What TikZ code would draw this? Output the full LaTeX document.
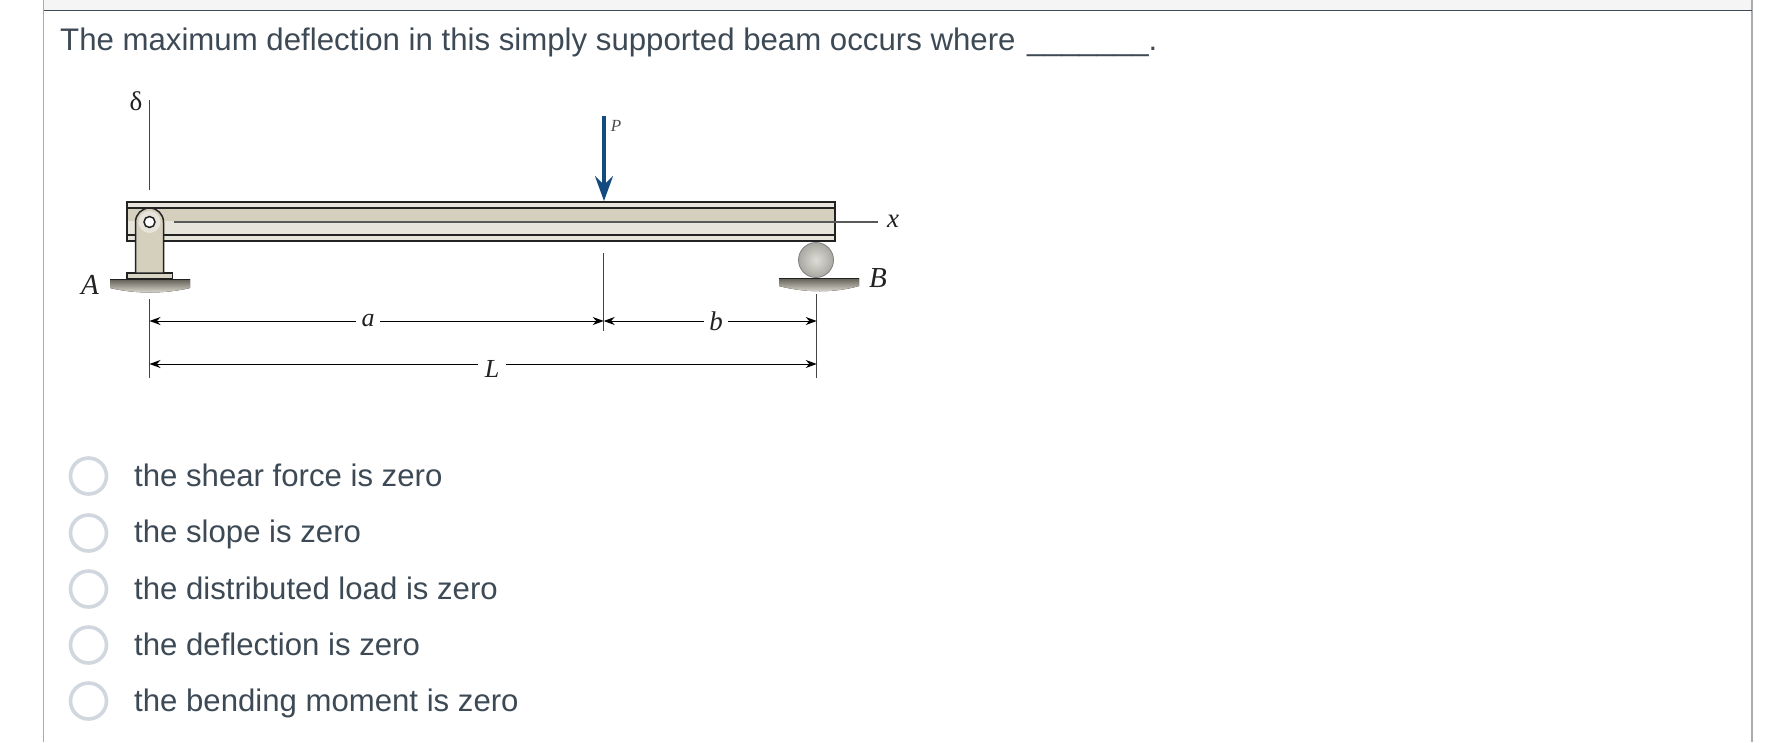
\documentclass[tikz,border=0pt]{standalone}
\usepackage{fontspec}
\setmainfont{Liberation Sans}
\newfontfamily\serifit[Ligatures=TeX]{Liberation Serif}
\usetikzlibrary{arrows.meta}
\definecolor{txt}{HTML}{3D4A55}
\definecolor{radio}{HTML}{D0D7DF}
\definecolor{frame}{HTML}{ABABAB}
\definecolor{hdr}{HTML}{F5F5F5}
\definecolor{hdrline}{HTML}{3F4C57}
\definecolor{beamlight}{HTML}{E7E4DB}
\definecolor{beamdark}{HTML}{D5CFBD}
\definecolor{pblue}{HTML}{134B80}
\definecolor{ink}{HTML}{222222}
\definecolor{ballin}{HTML}{DDDCD6}
\definecolor{ballout}{HTML}{A9A8A0}
\tikzset{
  qtext/.style={font=\fontsize{31.2}{36}\selectfont,text=txt,anchor=base west,inner sep=0pt},
  opt/.style={font=\fontsize{31.15}{36}\selectfont,text=txt,anchor=base west,inner sep=0pt},
  radiobtn/.style={circle,draw=radio,line width=3.6pt,fill=white,minimum size=36pt,inner sep=0pt},
  ital/.style={font=\fontsize{#1}{#1}\selectfont\serifit\itshape,text=ink,inner sep=0pt},
  dimarrow/.style={draw=black,line width=1pt,-{Stealth[length=11pt,width=8pt]}},
  extline/.style={draw=ink!85,line width=1pt},
  outline/.style={draw=ink,line width=1.5pt},
  groundblk/.style={top color=black!55!beamdark,bottom color=beamlight,draw=none}
}
\begin{document}
\begin{tikzpicture}[x=1pt,y=-1pt]
\useasboundingbox (0,0) rectangle (1791,742);
\fill[white] (0,0) rectangle (1791,742);
% frame
\fill[hdr] (43.5,0) rectangle (1752,10);
\draw[frame,line width=1.2pt] (43.5,0) -- (43.5,742);
\draw[frame,line width=1.2pt] (1752,0) -- (1752,742);
\draw[hdrline,line width=1.2pt] (43.5,10.5) -- (1752,10.5);
% question
\node[qtext] (question) at (60,50.5) {The maximum deflection in this simply supported beam occurs where\hspace{3pt} \_\_\_\_\_\_\_.};
% options
\foreach \yy/\bl/\lab/\txt in {476/486/o1/the shear force is zero,533/542/o2/the slope is zero,589/599/o3/the distributed load is zero,645/655/o4/the deflection is zero,701/711/o5/the bending moment is zero}{
  \node[radiobtn] (r\lab) at (88.5,\yy) {};
  \node[opt] (t\lab) at (134,\bl) {\txt};
}
% beam
\fill[beamlight] (127,202) rectangle (835,241);
\fill[beamdark] (127,208) rectangle (835,221);
\draw[outline] (127,202) rectangle (835,241);
\draw[outline] (127,208) -- (835,208);
\draw[outline] (127,235) -- (835,235);
% axes
\coordinate (dtop) at (149.5,100);
\coordinate (dbot) at (149.5,190);
\draw[extline] (dtop) -- (dbot);
\node[font=\fontsize{27}{27}\selectfont\serifit,text=ink,inner sep=0pt] (delta) at (136,101) {δ};
\coordinate (xl) at (174,222);
\coordinate (xr) at (878,222);
\draw[draw=ink!75,line width=1.1pt] (xl) -- (xr);
\node[ital=27] (xlab) at (893,221) {x};
% support A
\fill[groundblk] (110,279) -- (190,279) -- (190,288) .. controls (165,294) and (135,294) .. (110,288) -- cycle;
\draw[ink,line width=1.5pt] (110,279.5) -- (190,279.5);
\draw[outline,fill=beamdark!90!white] (127,273) rectangle (172.5,279);
\draw[outline,fill=beamdark] (135.5,273) -- (135.5,222) arc[start angle=180,end angle=360,radius=14] -- (163.5,273) -- cycle;
\fill[beamlight] (149.5,222) circle[radius=11];
\node[circle,draw=ink,line width=1.5pt,fill=white,minimum size=11pt,inner sep=0pt] (pin) at (149.5,222) {};
\node[ital=29] (A) at (90,285) {A};
% support B
\fill[groundblk] (779,278) -- (859,278) -- (859,286) .. controls (835,293) and (805,293) .. (779,286) -- cycle;
\draw[ink,line width=1.5pt] (779,278.5) -- (859,278.5);
\node[circle,draw=black!50,line width=.8pt,inner color=ballin,outer color=ballout,minimum size=35pt,inner sep=0pt] (roller) at (816,260) {};
\node[ital=29] (B) at (878,278) {B};
% load
\coordinate (ptop) at (604,116);
\coordinate (ptip) at (604,201);
\draw[pblue,line width=4.2pt,-{Stealth[length=25pt,width=18pt,inset=9pt]}] (ptop) -- (ptip);
\node[ital=17,text=black!70] (P) at (616,126) {P};
% dimensions
\coordinate (extAtop) at (149.5,299);
\coordinate (extAbot) at (149.5,378);
\coordinate (extPtop) at (603.7,253);
\coordinate (extPbot) at (603.7,331);
\coordinate (extBtop) at (816.7,294);
\coordinate (extBbot) at (816.7,378);
\draw[extline] (extAtop) -- (extAbot);
\draw[extline] (extPtop) -- (extPbot);
\draw[extline] (extBtop) -- (extBbot);
\coordinate (aL) at (149.5,321);
\coordinate (aR) at (603.7,321);
\coordinate (bL) at (603.7,321);
\coordinate (bR) at (816.7,321);
\coordinate (lL) at (149.5,364);
\coordinate (lR) at (816.7,364);
\node[ital=26,inner xsep=5pt,inner ysep=0pt] (alab) at (368,321) {a};
\node[ital=27,inner xsep=5pt,inner ysep=0pt] (blab) at (716,321) {b};
\node[ital=26,inner xsep=7pt,inner ysep=0pt] (llab) at (492,369) {L};
\draw[dimarrow] (alab.west) -- (aL);
\draw[dimarrow] (alab.east) -- (aR);
\draw[dimarrow] (blab.west) -- (bL);
\draw[dimarrow] (blab.east) -- (bR);
\draw[dimarrow] (llab.west |- lL) -- (lL);
\draw[dimarrow] (llab.east |- lR) -- (lR);
\end{tikzpicture}
\end{document}
